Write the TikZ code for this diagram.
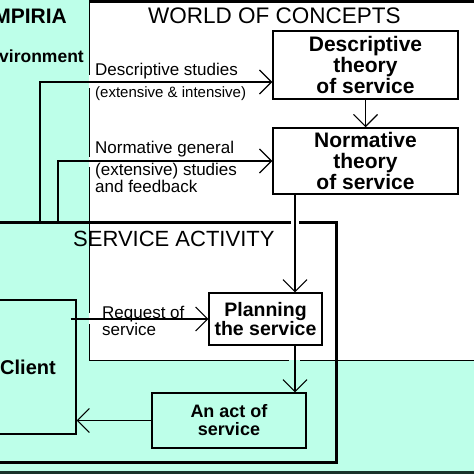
\documentclass[tikz,border=0pt]{standalone}
\usepackage{fontspec}
\setmainfont{Liberation Sans}
\usetikzlibrary{arrows.meta}
\definecolor{mint}{RGB}{189,255,233}
\definecolor{bandc}{RGB}{25,50,42}
\begin{document}
\begin{tikzpicture}[x=1pt,y=-1pt,
  box/.style={draw, line width=1.5pt, align=center, inner sep=0pt},
  boxfont/.style={font=\bfseries\fontsize{#1}{#1}\selectfont},
  arr/.style={line width=1.1pt, -{Straight Barb[length=12pt,width=24pt]}},
  conn/.style={line width=1.1pt},
  frame/.style={line width=1pt},
  thick frame/.style={line width=3pt},
  lbl/.style={anchor=base west, inner sep=0pt, font=\fontsize{17}{17}\selectfont},
  smalllbl/.style={anchor=base west, inner sep=0pt, font=\fontsize{15}{15}\selectfont},
  head/.style={inner sep=0pt, font=\fontsize{22.5}{22.5}\selectfont},
  headb/.style={inner sep=0pt, font=\bfseries\fontsize{#1}{#1}\selectfont}]
\useasboundingbox (0,0) rectangle (474,474);
\begin{scope}
\clip (0,0) rectangle (474,474);
% backgrounds
\fill[mint] (0,0) rectangle (474,474);
\fill[white] (89,0) rectangle (480,360);
\fill[bandc] (0,470.5) rectangle (474,474);
% world of concepts frame (with gaps at crossings)
\draw[line width=3pt] (89,1) -- (480,1);
\draw[frame] (89,0) -- (89,75) (89,88) -- (89,157) (89,167) -- (89,313) (89,324) -- (89,360);
\draw[frame] (89,360) -- (289,360) (300,360) -- (480,360);
% service activity frame
\draw[thick frame] (-5,222) -- (291,222) (299,222) -- (336,222) -- (336,462) -- (-5,462);
% headings
\node[headb=21, anchor=base east] (empiria) at (67,23) {EMPIRIA};
\node[headb=17.5, anchor=base east] (env) at (84,62) {Environment};
\node[head, anchor=base west] (world) at (148,23) {WORLD OF CONCEPTS};
\node[head, anchor=base west, font=\fontsize{22}{22}\selectfont] (sact) at (73,246) {SERVICE ACTIVITY};
% boxes
\node[box, boxfont=21, fill=white, minimum width=185pt, minimum height=68pt] (desc) at (365.5,65) {Descriptive\\theory\\of service};
\node[box, boxfont=21, fill=white, minimum width=185pt, minimum height=66pt] (norm) at (365.5,161) {Normative\\theory\\of service};
\node[box, boxfont=19.5, fill=white, minimum width=113pt, minimum height=52pt, line width=1.3pt] (plan) at (265.5,319) {Planning\\the service};
\node[box, boxfont=18, fill=mint, minimum width=154pt, minimum height=55pt, line width=1.3pt] (act) at (229,420.5) {An act of\\service};
\node[box, boxfont=20, fill=mint, minimum width=96pt, minimum height=134pt, line width=1.3pt] (client) at (28,367) {Client};
% coordinates
\coordinate (vline) at (295,0);
\coordinate (s1) at (40,222);
\coordinate (s2) at (58,222);
% connectors
\draw[arr] (desc) -- (norm);
\draw[arr] (norm.south -| vline) -- (plan.north -| vline);
\draw[arr] (plan.south -| vline) -- (act.north -| vline);
\draw[arr] (act.west) -- (act.west -| client.east);
\draw[arr] ([xshift=-6pt]plan.west -| client.east) -- (plan.west);
\draw[arr] (s1) |- ([yshift=-17pt]desc.west);
\draw[arr] (s2) |- (norm.west);
% labels
\node[lbl] (l1) at (95,75) {Descriptive studies};
\node[smalllbl] (l2) at (95,97) {(extensive \& intensive)};
\node[lbl] (l3) at (95,153) {Normative general};
\node[lbl] (l4) at (95,175) {(extensive) studies};
\node[lbl] (l5) at (95,192) {and feedback};
\node[lbl] (l6) at (102,318) {Request of};
\node[lbl] (l7) at (102,335) {service};
\end{scope}
\end{tikzpicture}
\end{document}
